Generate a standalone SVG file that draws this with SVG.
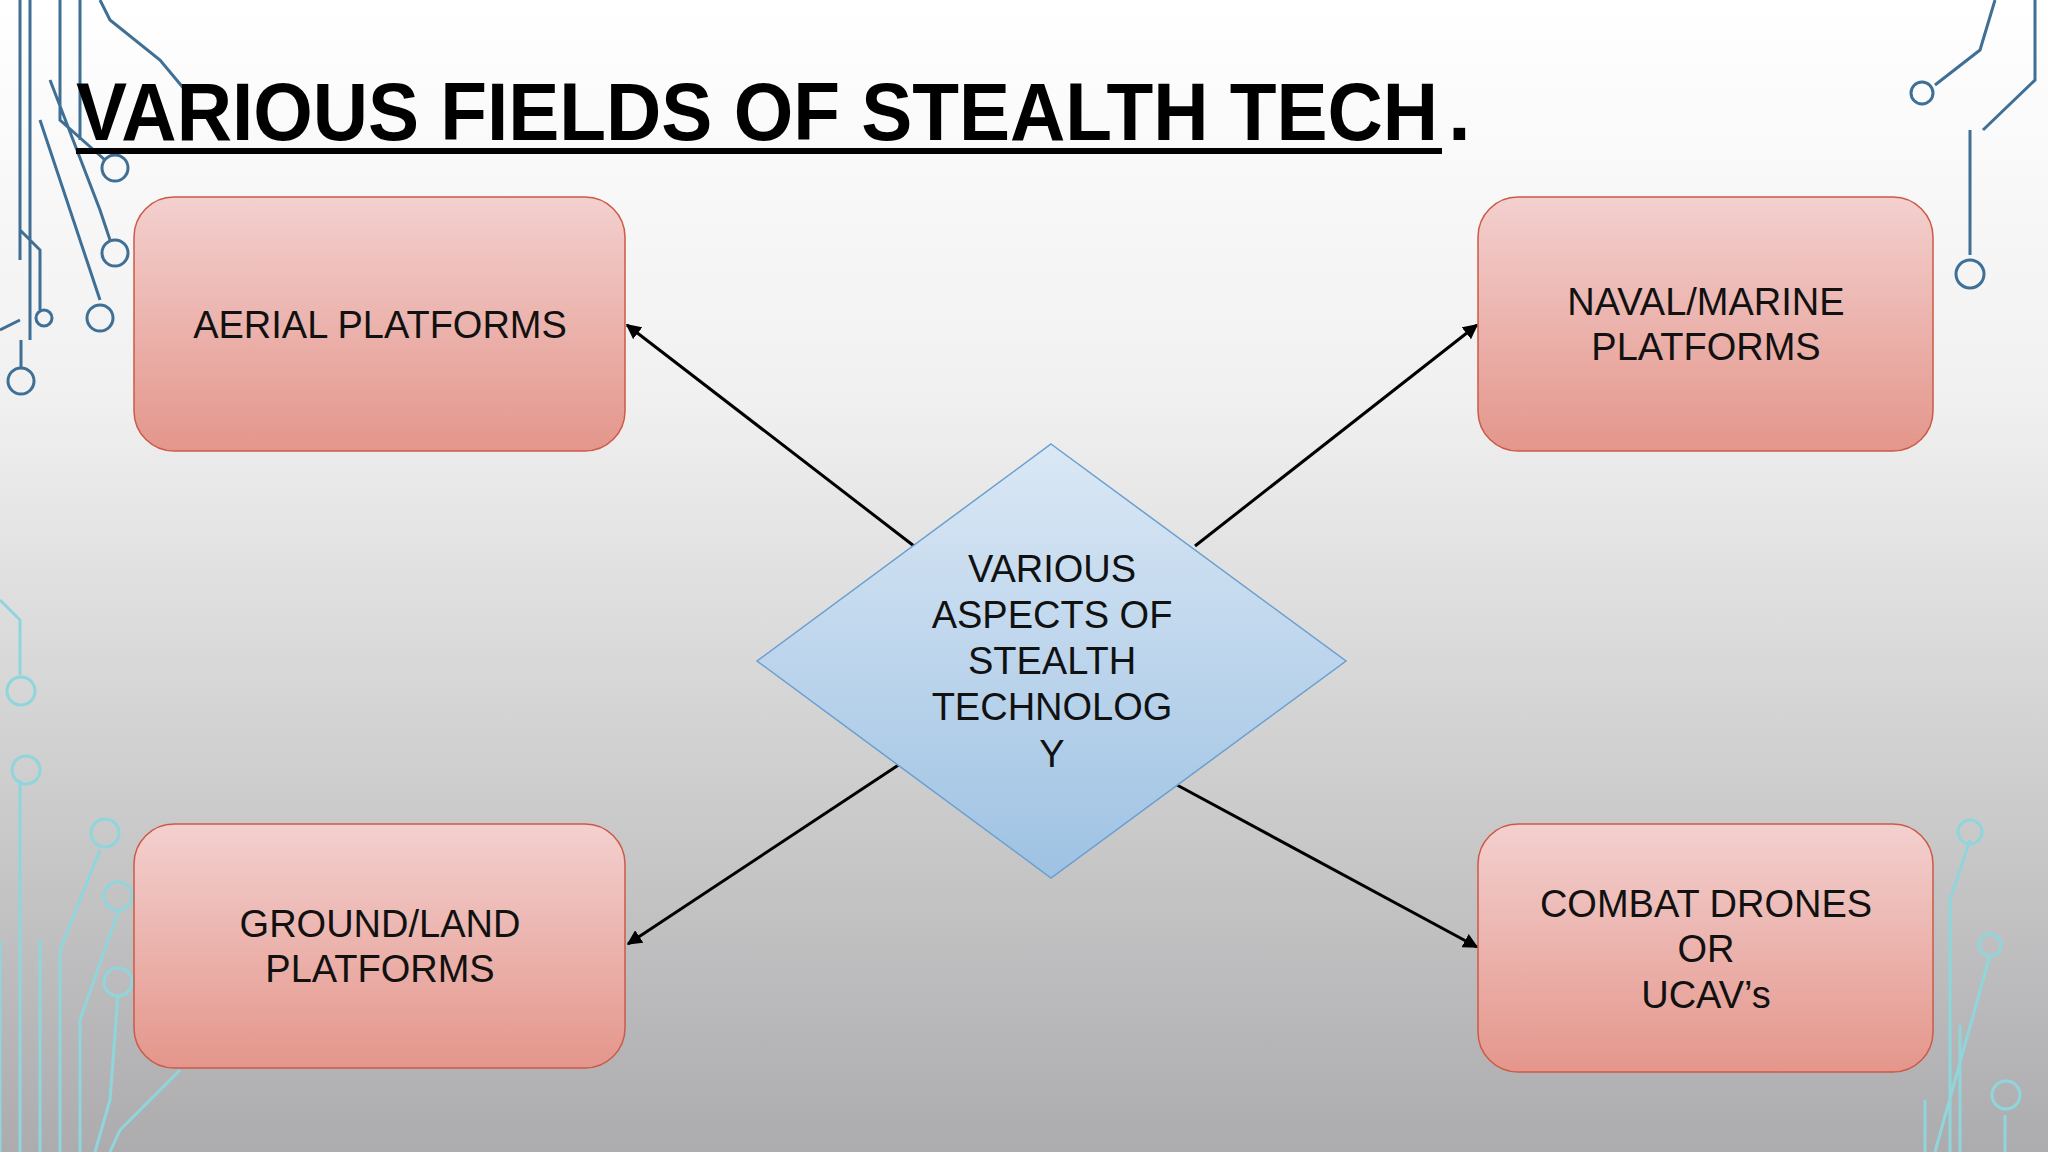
<svg xmlns="http://www.w3.org/2000/svg" width="2048" height="1152" viewBox="0 0 2048 1152">
<defs>
<linearGradient id="bg" x1="0" y1="0" x2="0" y2="1"><stop offset="0" stop-color="#ffffff"/><stop offset="0.35" stop-color="#f0f0f0"/><stop offset="1" stop-color="#acacae"/></linearGradient>
<linearGradient id="box" x1="0" y1="0" x2="0" y2="1"><stop offset="0" stop-color="#f3d0cf"/><stop offset="1" stop-color="#e4968b"/></linearGradient>
<linearGradient id="dia" x1="0" y1="0" x2="0" y2="1"><stop offset="0" stop-color="#dbe8f5"/><stop offset="1" stop-color="#9ec2e3"/></linearGradient>
<marker id="ah" viewBox="0 0 10 10" refX="9" refY="5" markerWidth="5" markerHeight="5" orient="auto"><path d="M0,0L10,5L0,10z" fill="#000"/></marker>
</defs>
<style>
.b{fill:url(#box);stroke:#cc5a48;stroke-width:1.5}
.t{font-family:"Liberation Sans",Arial,sans-serif;font-size:38px;fill:#111;text-anchor:middle}
.c{stroke:#000;stroke-width:3;fill:none;marker-end:url(#ah)}
.d1{stroke:#3f6f95;stroke-width:3;fill:none}
.d2{stroke:#8fd6dc;stroke-width:3;fill:none}
.h{font-family:"Liberation Sans",Arial,sans-serif;font-weight:bold;font-size:82px;fill:#000}
</style>
<rect width="2048" height="1152" fill="url(#bg)"/>
<g id="decor">
<path class="d1" d="M20,0V260M30,0V340M60,0V120L105,160M80,0V140M100,0L110,20L160,60L185,90M50,80L100,210L110,240M40,120L100,300M20,230L40,250V310M20,320L0,330"/>
<circle class="d1" cx="115" cy="168" r="13"/><circle class="d1" cx="115" cy="253" r="13"/><circle class="d1" cx="100" cy="318" r="13"/><circle class="d1" cx="44" cy="318" r="8"/><circle class="d1" cx="21" cy="381" r="13"/><path class="d1" d="M21,368V340"/>
<path class="d1" d="M1995,0L1980,50L1935,85M1983,130L2035,80V0M1970,130V255"/>
<circle class="d1" cx="1922" cy="93" r="11"/><circle class="d1" cx="1970" cy="274" r="14"/>
<path class="d2" d="M0,600L20,620V675M20,780V1152M0,940V1152M40,940V1152M100,850L60,950V1152M118,912L80,1020V1152M118,995L110,1100L95,1152M180,1070L120,1130L110,1152"/>
<circle class="d2" cx="21" cy="691" r="14"/><circle class="d2" cx="26" cy="770" r="14"/><circle class="d2" cx="105" cy="833" r="14"/><circle class="d2" cx="118" cy="896" r="14"/><circle class="d2" cx="118" cy="982" r="14"/>
<path class="d2" d="M1970,840L1950,900V1152M1990,955L1935,1152M1960,1025V1152M2005,1115V1152M1925,1100V1152"/>
<circle class="d2" cx="1970" cy="832" r="12"/><circle class="d2" cx="1990" cy="945" r="11"/><circle class="d2" cx="2006" cy="1095" r="14"/>
</g>
<g id="title">
<text class="h" x="76" y="140" textLength="1362" lengthAdjust="spacingAndGlyphs">VARIOUS FIELDS OF STEALTH TECH</text>
<text class="h" x="1448" y="140">.</text>
<rect x="76" y="148" width="1366" height="6" fill="#000"/>
</g>
<g id="connectors">
<line class="c" x1="914" y1="546" x2="627" y2="325"/>
<line class="c" x1="1195" y1="546" x2="1477" y2="325"/>
<line class="c" x1="900" y1="764" x2="628" y2="944"/>
<line class="c" x1="1177" y1="785" x2="1477" y2="947"/>
</g>
<g id="aerial"><rect class="b" x="134" y="197" width="491" height="254" rx="40"/><text class="t" x="380" y="338">AERIAL PLATFORMS</text></g>
<g id="naval"><rect class="b" x="1478" y="197" width="455" height="254" rx="40"/><text class="t" x="1706" y="315">NAVAL/MARINE</text><text class="t" x="1706" y="360">PLATFORMS</text></g>
<g id="ground"><rect class="b" x="134" y="824" width="491" height="244" rx="40"/><text class="t" x="380" y="937">GROUND/LAND</text><text class="t" x="380" y="982">PLATFORMS</text></g>
<g id="combat"><rect class="b" x="1478" y="824" width="455" height="248" rx="40"/><text class="t" x="1706" y="917">COMBAT DRONES</text><text class="t" x="1706" y="962">OR</text><text class="t" x="1706" y="1008">UCAV’s</text></g>
<g id="center"><polygon points="1051,444 1346,661 1051,878 757,661" fill="url(#dia)" stroke="#6a9fcf" stroke-width="1.5"/>
<text class="t" x="1052" y="582">VARIOUS</text><text class="t" x="1052" y="628">ASPECTS OF</text><text class="t" x="1052" y="674">STEALTH</text><text class="t" x="1052" y="720">TECHNOLOG</text><text class="t" x="1052" y="767">Y</text></g>
</svg>
